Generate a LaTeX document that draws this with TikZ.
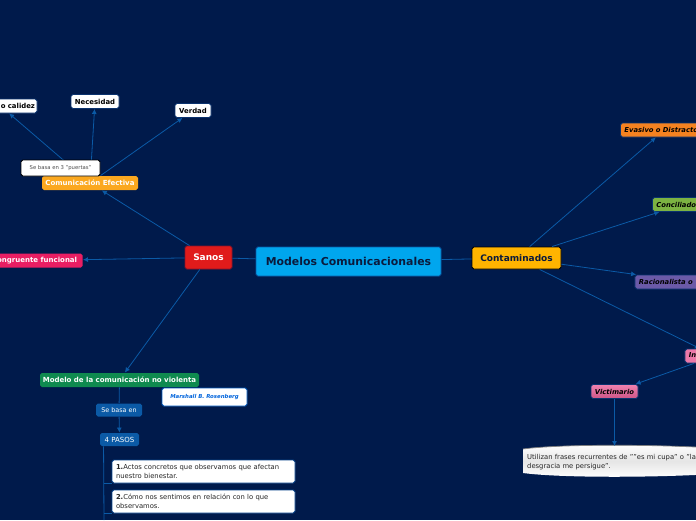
\documentclass[tikz,border=0pt]{standalone}
\usepackage{fontspec}
\setmainfont{DejaVu Sans}
\usetikzlibrary{arrows.meta}
\definecolor{fondoColor}{HTML}{001A4B}
\definecolor{lineaColor}{HTML}{0B5AA6}
\definecolor{textoOscuro}{HTML}{0B1A3C}
\begin{document}
\begin{tikzpicture}[x = 1pt, y = -1pt]
	\tikzstyle{baseStyle}=[shape = rectangle, rounded corners = 1.8pt, inner sep = 0pt, line width = 0.9pt]
	\tikzstyle{hojaStyle}=[baseStyle, fill = white, draw = {rgb,255:red,10;green,50;blue,110}, text = black, font = \fontsize{6.9}{8}\selectfont\bfseries, minimum height = 14pt]
	\tikzstyle{ramaStyle}=[baseStyle, text = white, font = \fontsize{7}{8}\selectfont\bfseries, minimum height = 14pt]
	\tikzstyle{tipoStyle}=[baseStyle, text = black, draw = {rgb,255:red,10;green,50;blue,110}, font = \fontsize{6.8}{8}\selectfont\bfseries\itshape, minimum height = 14pt, align = left]
	\tikzstyle{pasoStyle}=[baseStyle, fill = white, draw = {rgb,255:red,10;green,70;blue,140}, text = black!85, font = \fontsize{6.8}{9}\selectfont, minimum width = 183pt, minimum height = 23pt, text width = 175pt, align = left]
	\tikzstyle{azulStyle}=[baseStyle, fill = lineaColor, text = white, font = \fontsize{6.6}{8}\selectfont, minimum height = 13pt]
	\tikzstyle{edgeStyle}=[draw = lineaColor, line width = 0.8pt]
	\tikzstyle{arrowStyle}=[edgeStyle, -{Latex[length = 5pt, width = 5pt]}]
	\useasboundingbox (0,0) rectangle (696,520);
	\clip (0,0) rectangle (696,520);
	\fill[fondoColor] (0,0) rectangle (696,520);
	\node[baseStyle, fill = {rgb,255:red,0;green,166;blue,238}, draw = lineaColor, text = textoOscuro, font = \fontsize{10.9}{12}\selectfont\bfseries, minimum width = 185pt, minimum height = 29pt] (modelos) at (348.5,261.5) {Modelos Comunicacionales};
	\node[baseStyle, fill = {rgb,255:red,224;green,27;blue,27}, draw = {rgb,255:red,140;green,20;blue,40}, text = white, font = \fontsize{9}{10}\selectfont\bfseries, minimum width = 47pt, minimum height = 23pt] (sanos) at (208.5,257.5) {Sanos};
	\node[baseStyle, fill = {rgb,255:red,255;green,180;blue,0}, draw = black, text = textoOscuro, font = \fontsize{9}{10}\selectfont\bfseries, minimum width = 89pt, minimum height = 22pt] (contaminados) at (516.5,258) {Contaminados};
	\node[ramaStyle, fill = {rgb,255:red,251;green,168;blue,31}, minimum width = 96pt] (efectiva) at (90,183) {Comunicación Efectiva};
	\node[hojaStyle, text width = 69pt, align = right, minimum width = 73pt] (calidez) at (0.5,106) {o calidez};
	\node[hojaStyle, minimum width = 48pt] (necesidad) at (95,101.5) {Necesidad};
	\node[hojaStyle, minimum width = 36pt] (verdad) at (193,110.5) {Verdad};
	\node[ramaStyle, fill = {rgb,255:red,233;green,30;blue,99}, minimum width = 96pt, anchor = east] (congruente) at (83,260.5) {Congruente funcional};
	\node[ramaStyle, fill = {rgb,255:red,15;green,138;blue,79}, minimum width = 159pt] (modelo) at (119.5,380) {Modelo de la comunicación no violenta};
	\node[azulStyle, minimum width = 39pt, font = \fontsize{7}{8}\selectfont] (pasos) at (119.5,439.5) {4 PASOS};
	\node[pasoStyle] (paso1) at (203.5,471.5) {\textbf{1.}Actos concretos que observamos que afectan\\nuestro bienestar.};
	\node[pasoStyle] (paso2) at (203.5,501.5) {\textbf{2.}Cómo nos sentimos en relación con lo que\\observamos.};
	\node[tipoStyle, fill = {rgb,255:red,245;green,130;blue,32}, minimum width = 88pt, text width = 80pt, anchor = west] (evasivo) at (620,130) {Evasivo o Distractor};
	\node[tipoStyle, fill = {rgb,255:red,124;green,179;blue,66}, minimum width = 60pt, text width = 52pt, anchor = west] (conciliador) at (652,204.5) {Conciliador};
	\node[tipoStyle, fill = {rgb,255:red,107;green,90;blue,168}, minimum width = 110pt, text width = 102pt, anchor = west] (racionalista) at (634.5,282) {Racionalista o};
	\node[tipoStyle, fill = {rgb,255:red,236;green,120;blue,168}, minimum width = 60pt, text width = 52pt, anchor = west] (inculpador) at (684.5,356) {Inculpador};
	\node[tipoStyle, top color = {rgb,255:red,240;green,130;blue,175}, bottom color = {rgb,255:red,205;green,85;blue,135}, minimum width = 47pt, align = center] (victimario) at (614.5,391.5) {Victimario};
	\path[top color = white, bottom color = white, middle color = black!10] (523,449) .. controls (560,444) and (660,444) .. (730,449) -- (730,473) .. controls (660,478) and (560,478) .. (523,473) -- cycle;
	\draw[black!50, line width = 0.7pt] (523,449) .. controls (560,444) and (660,444) .. (730,449);
	\node[inner sep = 0pt, text = black!85, font = \fontsize{6.8}{9}\selectfont, text width = 200pt, align = left, anchor = west] (frases) at (527,462) {Utilizan frases recurrentes de ""es mi cupa" o "la\\desgracia me persigue".};
	\coordinate (frasesTop) at (614.5,446);
	\coordinate (trunkEnd) at (104,520);
	\draw[edgeStyle] (modelos) -- (sanos);
	\draw[edgeStyle] (modelos) -- (contaminados);
	\draw[arrowStyle] (sanos) -- (efectiva);
	\draw[arrowStyle] (sanos) -- (congruente);
	\draw[arrowStyle] (sanos) -- (modelo);
	\draw[arrowStyle] (efectiva) -- (calidez);
	\draw[arrowStyle] (efectiva) -- (necesidad);
	\draw[arrowStyle] (efectiva) -- (verdad);
	\draw[arrowStyle] (contaminados) -- (evasivo);
	\draw[arrowStyle] (contaminados) -- (conciliador);
	\draw[arrowStyle] (contaminados) -- (racionalista);
	\draw[arrowStyle] (contaminados) -- (inculpador);
	\draw[arrowStyle] (inculpador) -- (victimario);
	\draw[arrowStyle] (victimario) -- (frasesTop);
	\draw[edgeStyle] ([xshift = 4pt]pasos.south west) -- (trunkEnd);
	\draw[edgeStyle] (paso1.south west -| trunkEnd) -- (paso1.south west);
	\draw[edgeStyle] (paso2.south west -| trunkEnd) -- (paso2.south west);
	\node[azulStyle, minimum width = 46pt, font = \fontsize{6.4}{8}\selectfont] (sebasa) at (119,410) {Se basa en};
	\draw[edgeStyle] (modelo) -- (sebasa);
	\draw[arrowStyle] (sebasa) -- (pasos);
	\node[baseStyle, fill = white, draw = black, text = black!70, font = \fontsize{5.3}{6}\selectfont, minimum width = 79pt, minimum height = 16pt] (puertas) at (60.5,168) {Se basa en 3 "puertas"};
	\node[baseStyle, fill = white, draw = {rgb,255:red,0;green,90;blue,190}, text = {rgb,255:red,0;green,100;blue,220}, font = \fontsize{5.4}{6}\selectfont\bfseries\itshape, minimum width = 85pt, minimum height = 18pt] (marshall) at (204.5,397) {Marshall B. Rosenberg};
\end{tikzpicture}
\end{document}
